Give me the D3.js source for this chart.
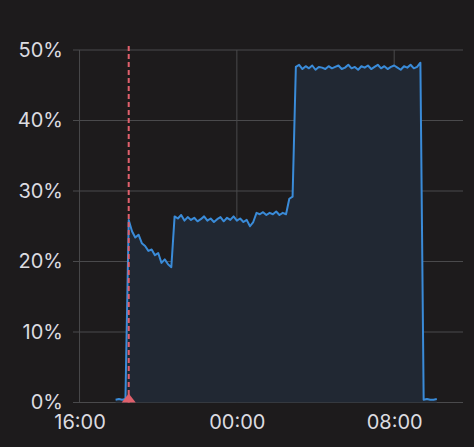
<!DOCTYPE html>
<html lang="en">
<head>
<meta charset="utf-8">
<title>Usage</title>
<script src="https://cdn.jsdelivr.net/npm/d3@7"></script>
<style>
  html, body { margin: 0; padding: 0; background: #1d1b1c; }
  svg { display: block; }
  .tick text { font-family: Inter, "Open Sans", sans-serif; font-size: 20px; fill: #dcdce0; }
</style>
</head>
<body>
<script>
// samples every 10 minutes, starting at 17:50
var startTime = new Date(2024, 0, 1, 17, 50);
var stepMinutes = 10;
var usage = [
  0.4, 0.5, 0.4, 0.5,
  25.9, 24.3, 23.4, 23.8, 22.6, 22.2, 21.5, 21.7, 20.9, 21.2, 19.8, 20.3, 19.6, 19.2,
  26.4, 26.1, 26.6, 25.8, 26.3, 25.9, 26.2, 25.7, 26.0, 26.4, 25.8, 26.1, 25.6, 26.0,
  26.3, 25.7, 26.2, 25.9, 26.4, 25.8, 26.1, 25.6, 25.9, 25.0, 25.6,
  26.9, 26.7, 27.0, 26.6, 26.9, 26.7, 27.1, 26.6, 26.9, 26.7, 28.9, 29.2,
  47.6, 47.9, 47.3, 47.7, 47.4, 47.8, 47.2, 47.6, 47.5, 47.3, 47.7, 47.4, 47.6,
  47.8, 47.3, 47.5, 47.9, 47.4, 47.6, 47.2, 47.7, 47.5, 47.8, 47.3, 47.6, 47.9,
  47.4, 47.7, 47.3, 47.6, 47.8, 47.5, 47.2, 47.7, 47.5, 47.9, 47.4, 47.6, 48.2,
  0.4, 0.5, 0.4, 0.4, 0.5
];
var annotationTime = new Date(2024, 0, 1, 18, 30);
var yTicks = [0, 10, 20, 30, 40, 50];
var xTicks = [new Date(2024, 0, 1, 16, 0), new Date(2024, 0, 2, 0, 0), new Date(2024, 0, 2, 8, 0)];

var width = 474, height = 447;
var margin = {left: 73, right: 11, top: 50, bottom: 44.5};

var data = usage.map(function (v, i) {
  return {t: new Date(startTime.getTime() + i * stepMinutes * 60000), v: v};
});

var x = d3.scaleTime()
  .domain([new Date(2024, 0, 1, 15, 40), new Date(2024, 0, 2, 11, 30)])
  .range([margin.left, width - margin.right]);
var y = d3.scaleLinear()
  .domain([0, 50])
  .range([height - margin.bottom, margin.top]);

var svg = d3.select("body").append("svg")
  .attr("width", width)
  .attr("height", height);

// grid
svg.append("g")
  .selectAll("line.h")
  .data(yTicks)
  .enter().append("line")
  .attr("x1", margin.left).attr("x2", width - margin.right)
  .attr("y1", function (d) { return y(d); })
  .attr("y2", function (d) { return y(d); })
  .attr("stroke", "#4a4a4c")
  .attr("stroke-width", 1);

svg.append("g")
  .selectAll("line.v")
  .data(xTicks)
  .enter().append("line")
  .attr("x1", function (d) { return x(d); })
  .attr("x2", function (d) { return x(d); })
  .attr("y1", y(50)).attr("y2", y(0))
  .attr("stroke", "#4a4a4c")
  .attr("stroke-width", 1);

// series
var area = d3.area()
  .x(function (d) { return x(d.t); })
  .y0(y(0))
  .y1(function (d) { return y(d.v); });
var line = d3.line()
  .x(function (d) { return x(d.t); })
  .y(function (d) { return y(d.v); });

svg.append("path")
  .datum(data)
  .attr("d", area)
  .attr("fill", "#212833");

svg.append("path")
  .datum(data)
  .attr("d", line)
  .attr("fill", "none")
  .attr("stroke", "#3a8bd8")
  .attr("stroke-width", 2)
  .attr("stroke-linejoin", "round");

// annotation
var ax = x(annotationTime);
svg.append("line")
  .attr("x1", ax).attr("x2", ax)
  .attr("y1", y(50) - 4).attr("y2", y(0))
  .attr("stroke", "#e0606c")
  .attr("stroke-width", 2)
  .attr("stroke-dasharray", "5,3");
svg.append("path")
  .attr("d", "M" + (ax - 7) + "," + y(0) + "L" + ax + "," + (y(0) - 9) + "L" + (ax + 7) + "," + y(0) + "Z")
  .attr("fill", "#e0606c");

// axes
svg.append("g")
  .attr("transform", "translate(" + (margin.left - 10) + ",0)")
  .call(d3.axisLeft(y).tickValues(yTicks).tickSize(0).tickPadding(0)
    .tickFormat(function (d) { return d + "%"; }))
  .call(function (g) { g.select(".domain").remove(); });

svg.append("g")
  .attr("transform", "translate(0," + (y(0) + 12) + ")")
  .call(d3.axisBottom(x).tickValues(xTicks).tickSize(0).tickPadding(0)
    .tickFormat(d3.timeFormat("%H:%M")))
  .call(function (g) { g.select(".domain").remove(); });
</script>
</body>
</html>
